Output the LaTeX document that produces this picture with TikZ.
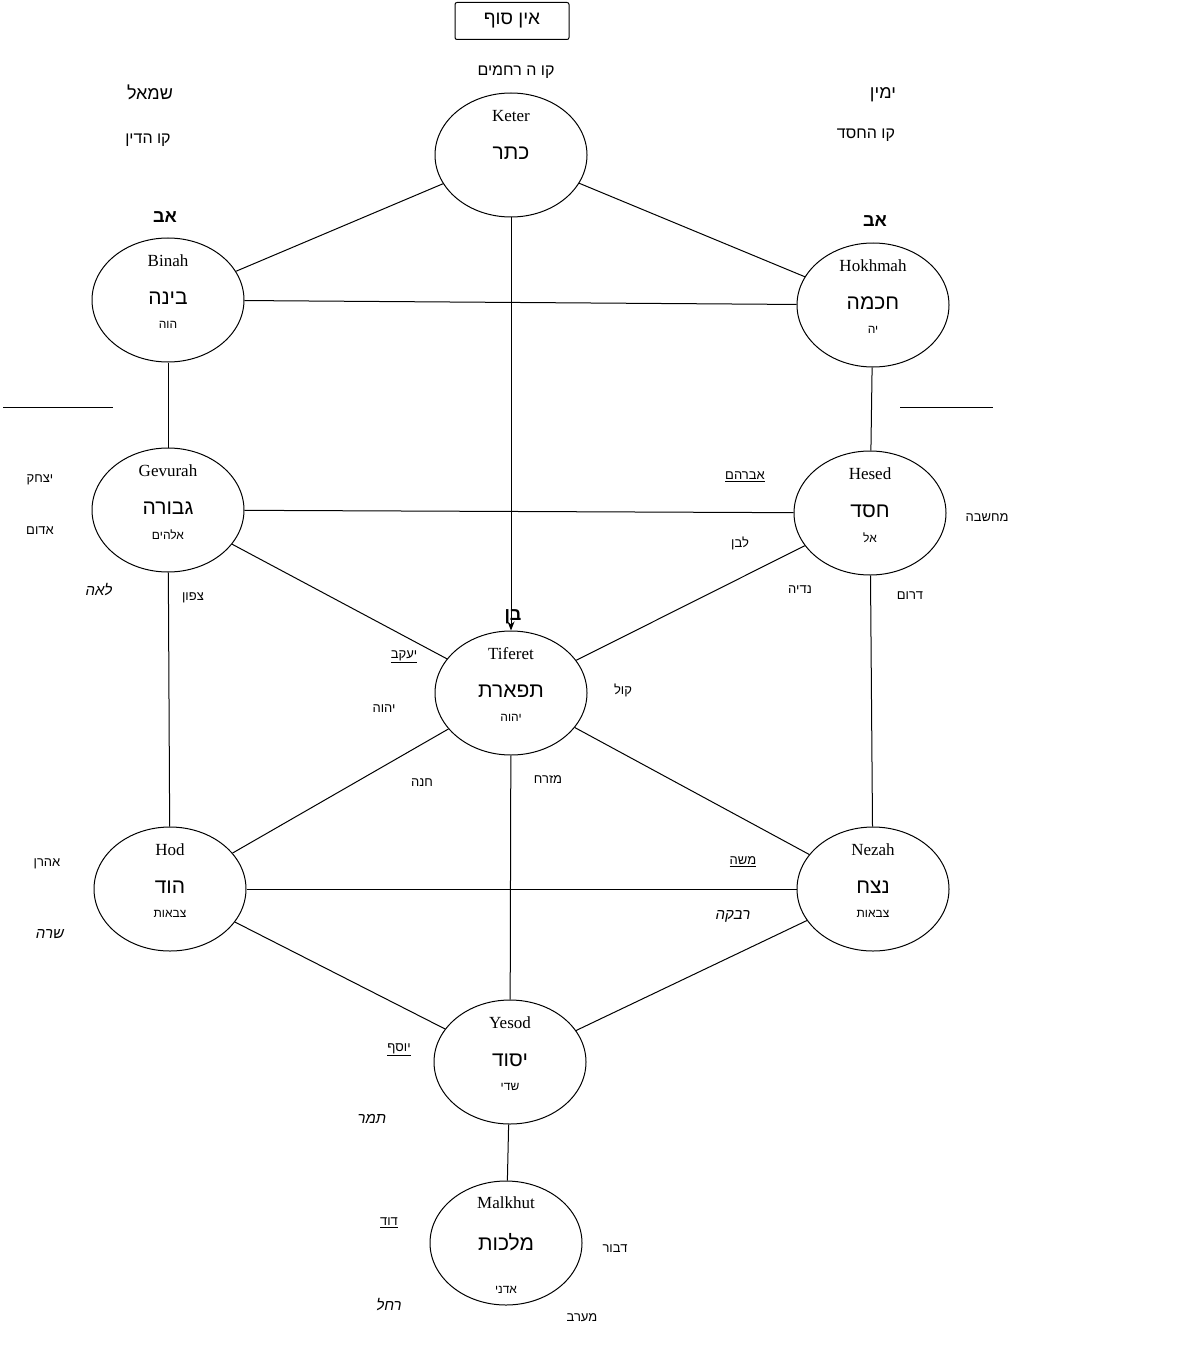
\documentclass[tikz,border=0pt]{standalone}
\usepackage{fontspec}
\setmainfont{Liberation Serif}
\newfontfamily\hebfont[Script=Hebrew]{Liberation Sans}
\TeXXeTstate=1
\usetikzlibrary{shapes.geometric,arrows.meta}
\newcommand{\hb}[1]{{\hebfont\beginR #1\endR}}
\tikzset{
  sef/.style={draw,ellipse,minimum width=152pt,minimum height=124pt,inner sep=0pt,line width=1pt},
  conn/.style={line width=1pt},
  en/.style={font=\fontsize{17}{17}\selectfont},
  big/.style={font=\fontsize{21}{21}\selectfont},
  sm/.style={font=\fontsize{12}{12}\selectfont},
  lab/.style={font=\fontsize{13}{13}\selectfont},
  labl/.style={font=\fontsize{18}{18}\selectfont}
}
\newcommand{\sefira}[6]{%
  \node[sef] (#1) at (#2,#3) {};
  \node[en] at (#2,#3-39) {#4};
  \node[big] at (#2,#3-2) {\hb{#5}};
  \node[sm] at (#2,#3+25) {\hb{#6}};
}
\begin{document}
\begin{tikzpicture}[x=1pt,y=-1pt]
\useasboundingbox (0,0) rectangle (1200,1372);
\fill[white] (0,0) rectangle (1200,1372);
\node[draw,rounded corners=2pt,minimum width=114pt,minimum height=37pt,line width=1pt,font=\fontsize{19}{19}\selectfont] (ein) at (512,21) {\hb{אין סוף}};
\node[lab,font=\fontsize{16}{16}\selectfont] (kav1) at (516,72) {\hb{קו ה רחמים}};
\node[labl] (smol) at (150,92) {\hb{שמאל}};
\node[lab,font=\fontsize{16}{16}\selectfont] (kav2) at (148,140) {\hb{קו הדין}};
\node[labl] (yamin) at (883,95) {\hb{ימין}};
\node[lab,font=\fontsize{16}{16}\selectfont] (kav3) at (866,135) {\hb{קו החסד}};
\node[labl,font=\fontsize{18}{18}\selectfont\bfseries] (av1) at (165,217) {\hb{אב}};
\node[labl,font=\fontsize{18}{18}\selectfont\bfseries] (av2) at (875,221) {\hb{אב}};
\node[labl,font=\fontsize{18}{18}\selectfont\bfseries] (ben) at (513,617) {\hb{בן}};

\sefira{keter}{511}{155}{Keter}{כתר}{}
\sefira{binah}{168}{300}{Binah}{בינה}{הוה}
\sefira{hokhmah}{873}{305}{Hokhmah}{חכמה}{יה}
\sefira{gevurah}{168}{510}{Gevurah}{גבורה}{אלהים}
\sefira{hesed}{870}{513}{Hesed}{חסד}{אל}
\sefira{tiferet}{511}{693}{Tiferet}{תפארת}{יהוה}
\sefira{hod}{170}{889}{Hod}{הוד}{צבאות}
\sefira{nezah}{873}{889}{Nezah}{נצח}{צבאות}
\sefira{yesod}{510}{1062}{Yesod}{יסוד}{שדי}
\node[sef] (malkhut) at (506,1243) {};
\node[en] at (506,1203) {Malkhut};
\node[big] at (506,1242) {\hb{מלכות}};
\node[sm] at (506,1290) {\hb{אדני}};

\draw[conn] (keter) -- (binah);
\draw[conn] (keter) -- (hokhmah);
\draw[conn] (binah) -- (hokhmah);
\draw[conn] (binah) -- (gevurah);
\draw[conn] (hokhmah) -- (hesed);
\draw[conn] (gevurah) -- (hesed);
\draw[conn,-{Stealth[length=9pt,width=7pt]}] (keter) -- (tiferet);
\draw[conn] (gevurah) -- (tiferet);
\draw[conn] (hesed) -- (tiferet);
\draw[conn] (gevurah) -- (hod);
\draw[conn] (hesed) -- (nezah);
\draw[conn] (tiferet) -- (hod);
\draw[conn] (tiferet) -- (nezah);
\draw[conn] (hod) -- (nezah);
\draw[conn] (tiferet) -- (yesod);
\draw[conn] (hod) -- (yesod);
\draw[conn] (nezah) -- (yesod);
\draw[conn] (yesod) -- (malkhut);
\coordinate (l1) at (3,407); \coordinate (l2) at (113,407);
\coordinate (r1) at (900,407); \coordinate (r2) at (993,407);
\draw[conn] (l1) -- (l2);
\draw[conn] (r1) -- (r2);

\node[lab] (t1) at (40,480) {\hb{יצחק}};
\node[lab] (t2) at (40,531) {\hb{אדום}};
\node[lab,font=\fontsize{15}{15}\selectfont\itshape] (t3) at (99,590) {\hb{לאה}};
\node[lab] (t4) at (193,598) {\hb{צפון}};
\node[lab] (t5) at (404,657) {\underline{\hb{יעקב}}};
\node[lab] (t6) at (384,709) {\hb{יהוה}};
\node[lab] (t7) at (745,477) {\underline{\hb{אברהם}}};
\node[lab] (t8) at (740,543) {\hb{לבן}};
\node[lab] (t9) at (800,590) {\hb{נדיה}};
\node[lab] (t10) at (987,518) {\hb{מחשבה}};
\node[lab] (t11) at (910,596) {\hb{דרום}};
\node[lab] (t12) at (623,690) {\hb{קול}};
\node[lab] (t13) at (422,783) {\hb{חנה}};
\node[lab] (t14) at (548,780) {\hb{מזרח}};
\node[lab] (t15) at (47,864) {\hb{אהרן}};
\node[lab,font=\fontsize{15}{15}\selectfont\itshape] (t16) at (50,934) {\hb{שרה}};
\node[lab] (t17) at (743,862) {\underline{\hb{משה}}};
\node[lab,font=\fontsize{15}{15}\selectfont\itshape] (t18) at (733,916) {\hb{רבקה}};
\node[lab] (t19) at (399,1050) {\underline{\hb{יוסף}}};
\node[lab,font=\fontsize{15}{15}\selectfont\itshape] (t20) at (372,1119) {\hb{תמר}};
\node[lab] (t21) at (389,1223) {\underline{\hb{דוד}}}; 
\node[lab] (t22) at (615,1249) {\hb{דבור}};
\node[lab,font=\fontsize{15}{15}\selectfont\itshape] (t23) at (389,1305) {\hb{רחל}};
\node[lab] (t24) at (582,1318) {\hb{מערב}};
\end{tikzpicture}
\end{document}
